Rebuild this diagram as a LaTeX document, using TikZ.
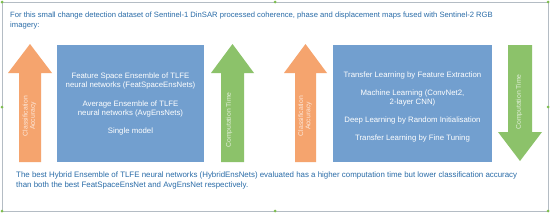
\documentclass[tikz,border=0pt]{standalone}
\usepackage{fontspec}
\setmainfont{Liberation Sans}
\definecolor{txtblue}{HTML}{2A6CA8}
\definecolor{boxblue}{HTML}{729FCF}
\definecolor{arrorange}{HTML}{F5A46E}
\definecolor{arrgreen}{HTML}{8CC26A}
\definecolor{frame}{HTML}{B4BCC4}
\definecolor{handle}{HTML}{7DBE4E}
\tikzset{
  boxstyle/.style={fill=boxblue, draw=none},
  orangearrow/.style={fill=arrorange, draw=none},
  greenarrow/.style={fill=arrgreen, draw=none},
  boxtext/.style={text=white, align=center, font=\fontsize{7.8}{9}\selectfont, inner sep=0pt},
  arrowtext/.style={text=white, text opacity=0.75, align=center, rotate=90, font=\fontsize{6.8}{7.4}\selectfont, inner sep=0pt},
  captext/.style={text=txtblue, align=left, font=\fontsize{7.65}{9.8}\selectfont, inner sep=0pt, anchor=north west},
  handledot/.style={fill=handle, draw=none, circle, minimum size=3pt, inner sep=0pt}
}
\begin{document}
\begin{tikzpicture}[x=1pt,y=-1pt]
\useasboundingbox (0,0) rectangle (550,214);
\fill[white] (0,0) rectangle (550,214);
\draw[frame, line width=0.9pt] (2,2) rectangle (548,211);
% arrows
\fill[orangearrow] (8,73) -- (30,44) -- (52,73) -- (41,73) -- (41,162) -- (19,162) -- (19,73) -- cycle;
\fill[greenarrow] (211,73) -- (232.5,44) -- (254,73) -- (244,73) -- (244,162) -- (221,162) -- (221,73) -- cycle;
\fill[orangearrow] (284,73) -- (305.5,44) -- (327,73) -- (316,73) -- (316,162) -- (295,162) -- (295,73) -- cycle;
\fill[greenarrow] (508,45) -- (532,45) -- (532,132) -- (542,132) -- (520,161) -- (498,132) -- (508,132) -- cycle;
% boxes
\node[boxstyle, minimum width=147pt, minimum height=117pt, inner sep=0pt, anchor=north west] (boxL) at (57,45) {};
\node[boxstyle, minimum width=159pt, minimum height=117pt, inner sep=0pt, anchor=north west] (boxR) at (333,45) {};
% box texts
\node[boxtext] (l1) at (130.5,81) {Feature Space Ensemble of TLFE\\neural networks (FeatSpaceEnsNets)};
\node[boxtext] (l2) at (130.5,108.5) {Average Ensemble of TLFE\\neural networks (AvgEnsNets)};
\node[boxtext] (l3) at (130.5,131) {Single model};
\node[boxtext] (r1) at (412.5,75) {Transfer Learning by Feature Extraction};
\node[boxtext] (r2) at (412.5,97.5) {Machine Learning (ConvNet2,\\2-layer CNN)};
\node[boxtext] (r3) at (412.5,120) {Deep Learning by Random Initialisation};
\node[boxtext] (r4) at (412.5,138) {Transfer Learning by Fine Tuning};
% arrow texts
\node[arrowtext] (ca1) at (29.5,116) {Classification\\Accuracy};
\node[arrowtext] (ct1) at (229,120) {Computation Time};
\node[arrowtext] (ca2) at (305,116) {Classification\\Accuracy};
\node[arrowtext] (ct2) at (519,102) {Computation Time};
% captions
\node[captext] (top) at (10,11.5) {For this small change detection dataset of Sentinel-1 DinSAR processed coherence, phase and displacement maps fused with Sentinel-2 RGB\\imagery:};
\node[captext, font=\fontsize{7.9}{9.8}\selectfont] (bot) at (16,171.5) {The best Hybrid Ensemble of TLFE neural networks (HybridEnsNets) evaluated has a higher computation time but lower classification accuracy\\than both the best FeatSpaceEnsNet and AvgEnsNet respectively.};
% handles
\foreach \p/\n in {{(2,2)}/h1,{(275,2)}/h2,{(548,2)}/h3,{(2,107)}/h4,{(548,107)}/h5,{(2,211)}/h6,{(275,211)}/h7,{(548,211)}/h8}
  \node[handledot] (\n) at \p {};
\end{tikzpicture}
\end{document}
